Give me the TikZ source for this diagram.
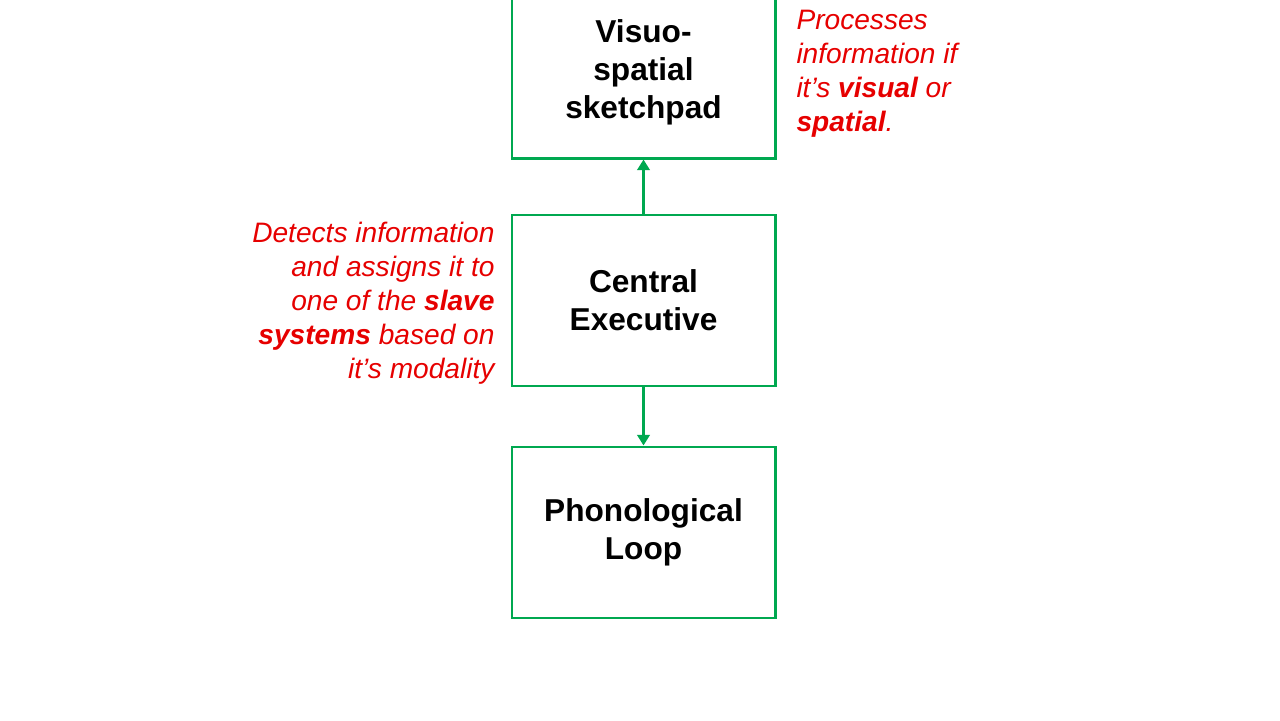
\documentclass[tikz,border=0pt]{standalone}
\usepackage{fontspec}
\setmainfont{Liberation Sans}
\usetikzlibrary{arrows.meta,positioning}
\definecolor{boxgreen}{RGB}{0,168,80}
\definecolor{notered}{RGB}{230,0,0}
\tikzset{
	node distance=1.08cm,
	every path/.style = {line width=1.7pt},
	store/.style = {draw=boxgreen, rectangle, minimum width=5.26cm, minimum height=3.42cm,
		align=center, font=\fontsize{18}{21.6}\selectfont\bfseries},
	link/.style = {draw=boxgreen, -{Triangle[length=6pt,width=7pt]}}
}

\begin{document}
\begin{tikzpicture}[note/.style={text=notered, font=\fontsize{16}{19.3}\selectfont\itshape, inner sep=0pt}]
	\useasboundingbox (0,0) rectangle (25.6,-14.4);
	\node[store] (ce) at (12.87,-6.01) {Central\\Executive};
	\node[store] (vs) [above=of ce] {Visuo-\\spatial\\sketchpad};
	\node[store] (pl) [below=1.16cm of ce] {Phonological\\Loop};
	\draw[link] (ce) -- (vs);
	\draw[link] (ce) -- (pl);
	\node[note, align=right, anchor=east] (cenote) at (9.92,-6.06)
		{Detects information\\and assigns it to\\one of the \textbf{slave}\\\textbf{systems} based on\\it’s modality};
	\node[note, align=left, anchor=west] (vsnote) at (15.9,-1.48)
		{Processes\\information if\\it’s \textbf{visual} or\\\textbf{spatial}.};
\end{tikzpicture}
\end{document}
